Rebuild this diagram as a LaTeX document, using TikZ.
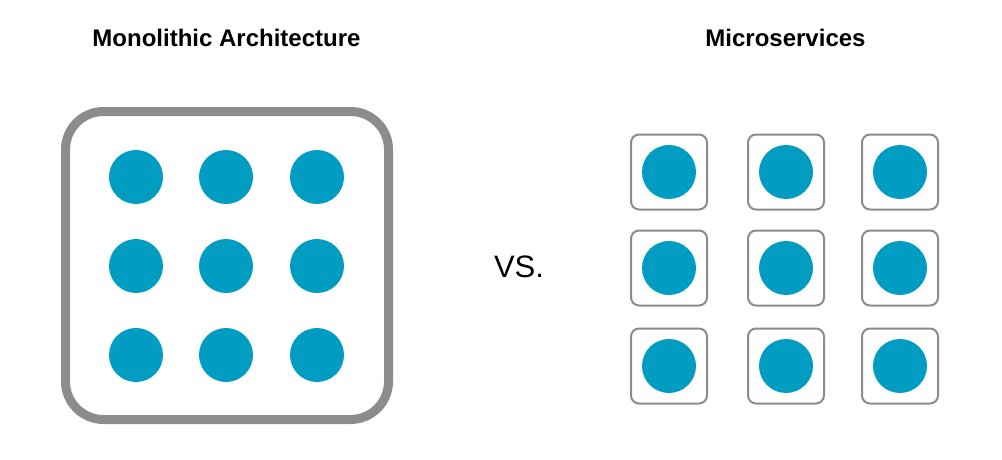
\documentclass[tikz,border=0pt]{standalone}
\usepackage{fontspec}
\setmainfont{Liberation Sans}
\usetikzlibrary{positioning}
\definecolor{svcblue}{HTML}{009CC2}
\definecolor{boxgray}{HTML}{8C8C8C}

\begin{document}
\begin{tikzpicture}[x=1pt,y=-1pt,
dot/.style={circle,fill=svcblue,minimum size=54pt,inner sep=0pt},
svcbox/.style={draw=boxgray,line width=2pt,rounded corners=8pt,minimum width=76pt,minimum height=75pt,inner sep=0pt},
title/.style={font=\bfseries\fontsize{24}{28}\selectfont,anchor=base}]
\useasboundingbox (0,0) rectangle (1002,460);
\node[title] (monotitle) at (226.5,47) {Monolithic Architecture};
\node[title] (microtitle) at (785.5,47) {Microservices};
\node[font=\fontsize{31}{36}\selectfont,anchor=base] (vs) at (519,277) {VS.};
% monolith
\node[draw=boxgray,line width=9pt,rounded corners=38pt,minimum width=323pt,minimum height=308pt] (mono) at (227,265.5) {};
\foreach \x [count=\i] in {136,226,317}
  \foreach \y [count=\j] in {177,266,355}
    \node[dot] (mono-\j-\i) at (\x,\y) {};
% microservices
\foreach \x [count=\i] in {669,786,900}
  \foreach \y [count=\j] in {172,268,366}{
    \node[svcbox] (box-\j-\i) at (\x,\y) {};
    \node[dot] (svc-\j-\i) at (box-\j-\i) {};
  }
\end{tikzpicture}
\end{document}
